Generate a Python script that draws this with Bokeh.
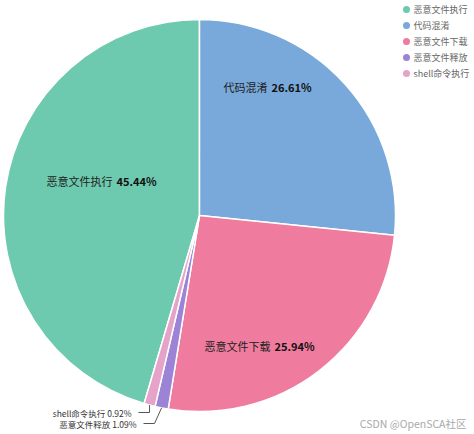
import math
from bokeh.plotting import figure
from bokeh.models import Range1d, ColumnDataSource
from bokeh.core.properties import value
from bokeh.embed import file_html
from bokeh.resources import INLINE

# ---- data ----
categories = ["恶意文件执行", "代码混淆", "恶意文件下载", "恶意文件释放", "shell命令执行"]
percents = [45.44, 26.61, 25.94, 1.09, 0.92]
colors = ["#6dcaaf", "#78a9da", "#ef7b9e", "#9c83d6", "#e6a3c9"]
watermark = "CSDN @OpenSCA社区"

FONT = value("Noto Sans CJK SC")
W, H = 474, 434

def sy(y):  # screen y -> data y
    return H - y

p = figure(width=W, height=H, x_range=Range1d(0, W), y_range=Range1d(0, H),
           output_backend="svg", toolbar_location=None, min_border=0,
           x_axis_location=None, y_axis_location=None, outline_line_color=None,
           background_fill_color="white", border_fill_color="white")
p.grid.visible = False

cx, cy, R = 199, sy(215), 196

# angles: clockwise order, first slice ends at 12 o'clock
total = sum(percents)
start0 = math.pi / 2 + 2 * math.pi * percents[0] / total
starts, ends = [], []
acc = 0.0
for v in percents:
    s = start0 - 2 * math.pi * acc / total
    e = s - 2 * math.pi * v / total
    starts.append(s)
    ends.append(e)
    acc += v

src = ColumnDataSource(dict(x=[cx] * len(percents), y=[cy] * len(percents),
                            s=ends, e=starts, c=colors))
p.wedge(x="x", y="y", radius=R, start_angle="s", end_angle="e", fill_color="c",
        line_color="white", line_width=1.5, source=src)

# inside labels (first three slices): name + bold percent
inside_anchor = {0: (114, 180), 1: (269, 86), 2: (272, 345)}
for i, (ax, ay) in inside_anchor.items():
    p.text(x=[ax - 2], y=[sy(ay)], text=[categories[i]], text_font=FONT,
           text_font_size="11px", text_align="right", text_baseline="middle",
           text_color="#222222")
    p.text(x=[ax + 2], y=[sy(ay)], text=[f"{percents[i]:.2f}%"], text_font=FONT,
           text_font_size="11px", text_font_style="bold", text_align="left",
           text_baseline="middle", text_color="#111111")

# outside labels with leader lines (small slices)
outside_label = {4: (133, 412), 3: (138, 423)}
for i, (tx, ty) in outside_label.items():
    mid = (starts[i] + ends[i]) / 2
    ex, ey = cx + R * math.cos(mid), cy + R * math.sin(mid)
    elbow_x = tx + 16
    p.line(x=[ex, elbow_x, tx + 5], y=[ey, sy(ty), sy(ty)], line_color="#555555",
           line_width=1)
    p.text(x=[tx], y=[sy(ty)], text=[f"{categories[i]}  {percents[i]:.2f}%"],
           text_font=FONT, text_font_size="8.5px", text_align="right",
           text_baseline="middle", text_color="#333333")

# legend
lx = 406
ly = [sy(9 + 16 * i) for i in range(len(categories))]
p.scatter(x=[lx] * len(categories), y=ly, size=7, marker="circle",
          fill_color=colors, line_color=None)
p.text(x=[lx + 7] * len(categories), y=ly, text=categories, text_font=FONT,
       text_font_size="9px", text_align="left", text_baseline="middle",
       text_color="#666666")

# watermark
p.text(x=[466], y=[sy(423)], text=[watermark], text_font=FONT, text_font_size="10.5px",
       text_align="right", text_baseline="middle", text_color="#a8a8a8")

open("out.html", "w").write(file_html(p, INLINE))
